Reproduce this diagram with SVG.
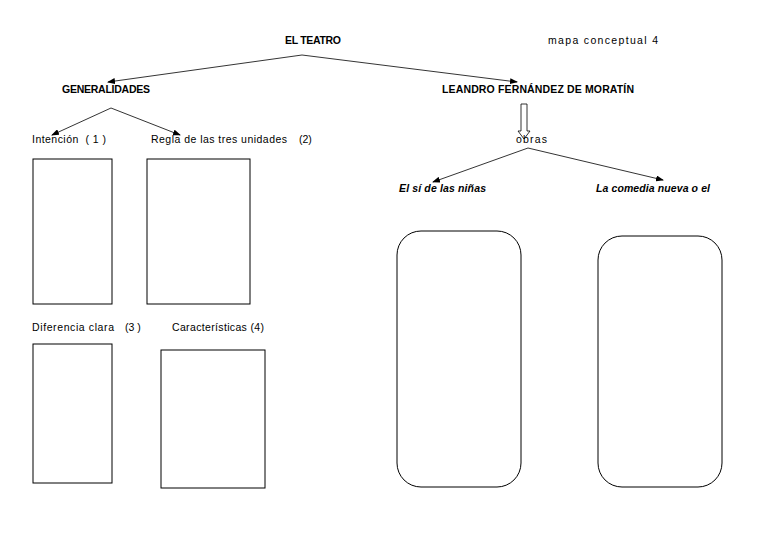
<svg xmlns="http://www.w3.org/2000/svg" width="768" height="543" viewBox="0 0 768 543">
<style>
text{font-family:"Liberation Sans",Arial,sans-serif;font-size:10.5px;fill:#000}
.b{font-weight:bold}
.i{font-weight:bold;font-style:italic}
.box{fill:#fff;stroke:#000;stroke-width:1}
.ln{stroke:#000;stroke-width:0.8;fill:none;marker-end:url(#a)}
</style>
<defs><marker id="a" markerWidth="8" markerHeight="6" refX="7" refY="3" orient="auto" markerUnits="userSpaceOnUse"><path d="M0,0L8,3L0,6z" fill="#000"/></marker></defs>
<rect width="768" height="543" fill="#fff"/>
<g id="connectors">
<path class="ln" d="M302,55L108,82"/>
<path class="ln" d="M302,55L517,82"/>
<path class="ln" d="M111,108L52,135"/>
<path class="ln" d="M111,108L180,135"/>
<path class="ln" d="M528,148L433,182"/>
<path class="ln" d="M528,148L663,180"/>
<path d="M521,104h6v27h3l-6,8l-6,-8h3z" fill="#fff" stroke="#000" stroke-width="0.8"/>
</g>
<g id="teatro"><text class="b" x="285" y="44" textLength="56">EL TEATRO</text></g>
<g id="mapa"><text x="548" y="44" textLength="110">mapa conceptual 4</text></g>
<g id="generalidades"><text class="b" x="62" y="93" textLength="88">GENERALIDADES</text></g>
<g id="leandro"><text class="b" x="442" y="93" textLength="192">LEANDRO FERNÁNDEZ DE MORATÍN</text></g>
<g id="intencion"><text x="32" y="143" textLength="74" xml:space="preserve">Intención  ( 1 )</text><rect class="box" x="33" y="159" width="79" height="145"/></g>
<g id="regla"><text x="151" y="143" textLength="136">Regla de las tres unidades</text><text x="299" y="143">(2)</text><rect class="box" x="147" y="159" width="103" height="145"/></g>
<g id="obras"><text x="516" y="143" textLength="31">obras</text></g>
<g id="nina"><text class="i" x="399" y="192" textLength="87">El sí de las niñas</text><rect class="box" x="397" y="231" width="124" height="256" rx="24"/></g>
<g id="comedia"><text class="i" x="596" y="192" textLength="114">La comedia nueva o el</text><rect class="box" x="598" y="236" width="124" height="251" rx="24"/></g>
<g id="diferencia"><text x="32" y="331" textLength="82">Diferencia clara</text><text x="125" y="331">(3 )</text><rect class="box" x="33" y="344" width="79" height="139"/></g>
<g id="caracteristicas"><text x="172" y="331" textLength="92">Características (4)</text><rect class="box" x="161" y="350" width="104" height="138"/></g>
</svg>
